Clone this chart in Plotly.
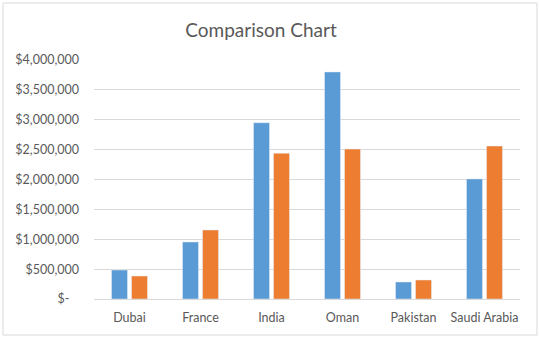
import plotly.graph_objects as go

categories = ["Dubai", "France", "India", "Oman", "Pakistan", "Saudi Arabia"]
series_a = [485000, 955000, 2950000, 3800000, 285000, 2010000]
series_b = [385000, 1155000, 2440000, 2510000, 318000, 2560000]
tick_vals = [0, 500000, 1000000, 1500000, 2000000, 2500000, 3000000, 3500000, 4000000]
tick_text = ["$-\u00a0\u00a0\u00a0", "$500,000", "$1,000,000", "$1,500,000", "$2,000,000",
             "$2,500,000", "$3,000,000", "$3,500,000", "$4,000,000"]

W, H = 540, 338
ml, mr, mt, mb = 94, 20, 60, 39
pw, ph = W - ml - mr, H - mt - mb

fig = go.Figure()
fig.add_trace(go.Bar(x=categories, y=series_a, marker_color="#5B9BD5", name="Series 1"))
fig.add_trace(go.Bar(x=categories, y=series_b, marker_color="#ED7D31", name="Series 2"))

font_family = "Lato, 'Open Sans', sans-serif"
fig.update_layout(
    width=W, height=H,
    margin=dict(l=ml, r=mr, t=mt, b=mb),
    paper_bgcolor="white", plot_bgcolor="white",
    showlegend=False,
    barmode="group", bargap=0.437, bargroupgap=0.2,
    title=dict(text="Comparison Chart", x=261 / W, xref="container", xanchor="center",
               y=1 - 30 / H, yref="container", yanchor="middle",
               font=dict(family=font_family, size=19, color="#595959")),
    font=dict(family=font_family, size=12, color="#595959"),
    xaxis=dict(showgrid=False, showline=True, linecolor="#D9D9D9", linewidth=1,
               ticks="", ticklabelstandoff=7, tickfont=dict(size=12.5, color="#595959")),
    yaxis=dict(range=[0, 4000000], tickvals=tick_vals, ticktext=tick_text,
               showgrid=True, gridcolor="#D9D9D9", gridwidth=1, zeroline=False,
               showline=False, ticks="", ticklabelstandoff=14,
               tickfont=dict(size=12.5, color="#595959")),
    shapes=[dict(type="rect", xref="paper", yref="paper",
                 x0=(3 - ml) / pw, x1=(537 - ml) / pw,
                 y0=(H - mb - 335) / ph, y1=(H - mb - 3) / ph,
                 line=dict(color="#D9D9D9", width=1), fillcolor="rgba(0,0,0,0)")],
)

fig.write_html("out.html")
